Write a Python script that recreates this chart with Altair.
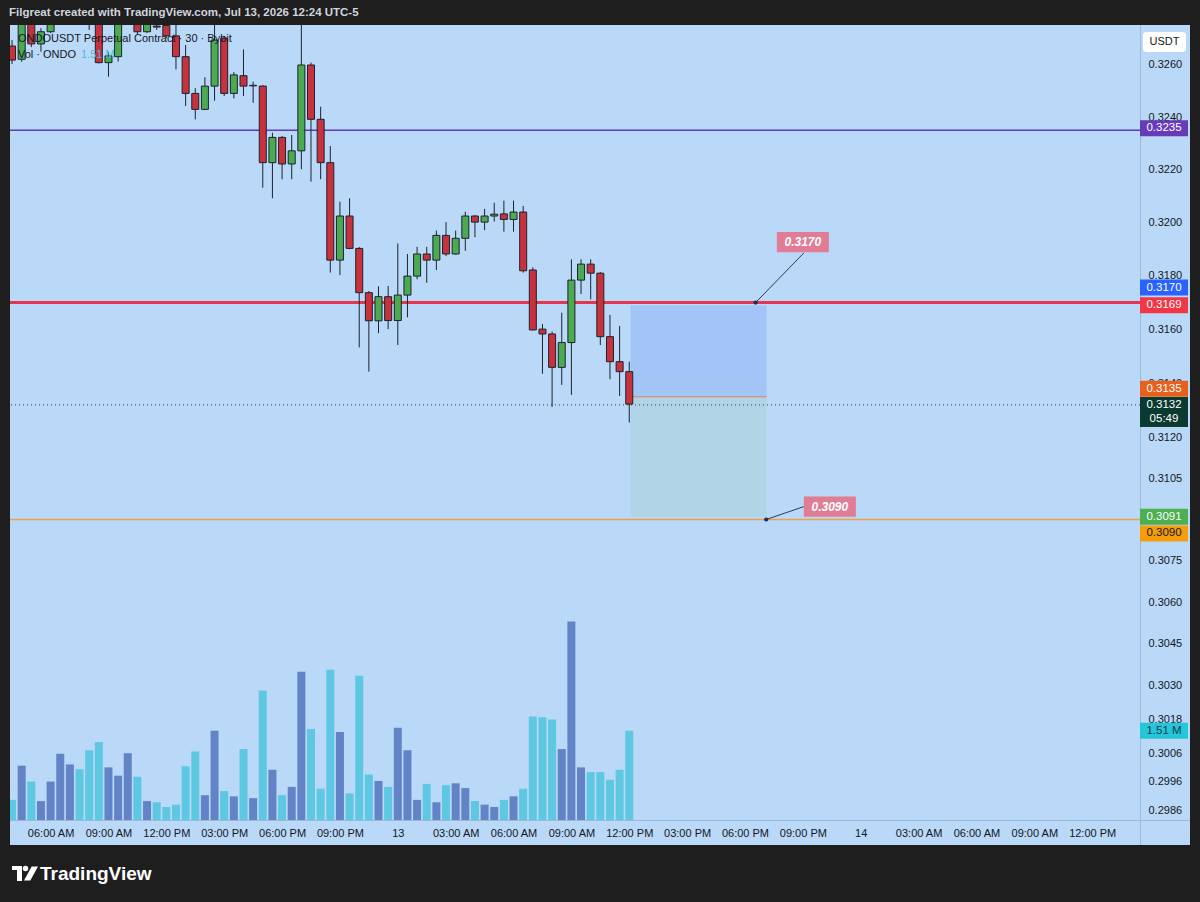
import altair as alt
import pandas as pd

# ---------------- data ----------------
# 30-minute bars; index 0 = Jul 12, 04:00 AM
bar_index = list(range(65))
opens = [0.32673, 0.32622, 0.3278, 0.32681, 0.32728, 0.3277, 0.3284, 0.3290, 0.3285, 0.3280,
         0.32609, 0.32632, 0.3277, 0.3285, 0.32728, 0.32750, 0.32752, 0.32712, 0.32632, 0.32491,
         0.32430, 0.32519, 0.32703, 0.32491, 0.32559, 0.32520, 0.32519, 0.32227, 0.32323, 0.32222,
         0.32272, 0.32600, 0.32392, 0.32227, 0.31859, 0.32025, 0.31903, 0.31737, 0.31632, 0.31722,
         0.31633, 0.31728, 0.31799, 0.31882, 0.31859, 0.31952, 0.31882, 0.31941, 0.32025, 0.32002,
         0.32025, 0.32033, 0.32012, 0.32040, 0.31822, 0.31601, 0.31583, 0.31459, 0.31551, 0.31784,
         0.31844, 0.31810, 0.31573, 0.31480, 0.31443]
highs = [0.32696, 0.3281, 0.3280, 0.32742, 0.3279, 0.3287, 0.3293, 0.3294, 0.3288, 0.3283,
         0.32650, 0.3280, 0.3288, 0.3288, 0.3279, 0.3277, 0.3278, 0.3276, 0.32677, 0.32511,
         0.32553, 0.3280, 0.32712, 0.32573, 0.32660, 0.32536, 0.32523, 0.32341, 0.32328, 0.32332,
         0.3280, 0.32609, 0.32440, 0.32290, 0.32079, 0.32092, 0.31908, 0.31743, 0.31761, 0.31762,
         0.31922, 0.31882, 0.31909, 0.31909, 0.31970, 0.32002, 0.31970, 0.32041, 0.32029, 0.32052,
         0.32075, 0.32083, 0.32083, 0.32063, 0.31832, 0.31620, 0.31592, 0.31662, 0.31862, 0.31862,
         0.31862, 0.31814, 0.31654, 0.31613, 0.31480]
lows = [0.32604, 0.32612, 0.32669, 0.32651, 0.32723, 0.3276, 0.3281, 0.3282, 0.32735, 0.32606,
        0.32555, 0.32613, 0.3276, 0.32719, 0.32723, 0.32735, 0.32704, 0.32583, 0.32443, 0.32392,
        0.32427, 0.32463, 0.32481, 0.32472, 0.32481, 0.32455, 0.32132, 0.32092, 0.32164, 0.32164,
        0.32202, 0.32155, 0.32164, 0.31812, 0.31803, 0.31900, 0.31533, 0.31443, 0.31586, 0.31601,
        0.31542, 0.31645, 0.31787, 0.31774, 0.31822, 0.31874, 0.31880, 0.31894, 0.31945, 0.31972,
        0.32004, 0.31966, 0.31966, 0.31812, 0.31596, 0.31435, 0.31313, 0.31394, 0.31357, 0.31732,
        0.31712, 0.31542, 0.31415, 0.31353, 0.31255]
closes = [0.32619, 0.3278, 0.32681, 0.32728, 0.3277, 0.3284, 0.3290, 0.3285, 0.3280, 0.32609,
          0.32635, 0.3277, 0.3285, 0.32728, 0.3276, 0.32746, 0.32712, 0.32632, 0.32491, 0.32430,
          0.32519, 0.32696, 0.32491, 0.32562, 0.32519, 0.32522, 0.32227, 0.32323, 0.32222, 0.32272,
          0.32600, 0.32392, 0.32227, 0.31859, 0.32025, 0.31903, 0.31737, 0.31632, 0.31722, 0.31633,
          0.31728, 0.31799, 0.31882, 0.31859, 0.31952, 0.31882, 0.31941, 0.32025, 0.32002, 0.32025,
          0.32032, 0.32012, 0.32040, 0.31819, 0.31598, 0.31583, 0.31459, 0.31551, 0.31784, 0.31844,
          0.31810, 0.31573, 0.31480, 0.31443, 0.31323]
volumes_m = [0.34, 0.92, 0.65, 0.32, 0.65, 1.12, 0.94, 0.86, 1.18, 1.32,
             0.89, 0.75, 1.13, 0.73, 0.32, 0.30, 0.22, 0.26, 0.91, 1.16,
             0.42, 1.51, 0.49, 0.40, 1.20, 0.37, 2.19, 0.85, 0.42, 0.56,
             2.51, 1.54, 0.53, 2.54, 1.49, 0.45, 2.44, 0.77, 0.66, 0.56,
             1.56, 1.18, 0.34, 0.61, 0.30, 0.59, 0.62, 0.54, 0.32, 0.26,
             0.22, 0.34, 0.40, 0.53, 1.75, 1.74, 1.70, 1.20, 3.36, 0.89,
             0.81, 0.81, 0.68, 0.85, 1.51]

x_tick_index = [4, 10, 16, 22, 28, 34, 40, 46, 52, 58, 64, 70, 76, 82, 88, 94, 100, 106, 112]
x_tick_labels = ["06:00 AM", "09:00 AM", "12:00 PM", "03:00 PM", "06:00 PM", "09:00 PM", "13",
                 "03:00 AM", "06:00 AM", "09:00 AM", "12:00 PM", "03:00 PM", "06:00 PM", "09:00 PM", "14",
                 "03:00 AM", "06:00 AM", "09:00 AM", "12:00 PM"]
y_tick_values = [0.3260, 0.3240, 0.3220, 0.3200, 0.3180, 0.3160, 0.3140, 0.3120, 0.3105,
                 0.3075, 0.3060, 0.3045, 0.3030, 0.3018, 0.3006, 0.2996, 0.2986]

purple_level = 0.3235
red_level = 0.3170
orange_level = 0.3090
last_price = 0.3132
pos_start, pos_end = 64.13, 78.25
pos_stop, pos_entry, pos_target = 0.3169, 0.3135, 0.3091
callouts = [  # dot (index, price), line end (index, price), label (index, price), text
    (77.1, 0.3170, 82.1, 0.31886, 82.0, 0.31927, "0.3170"),
    (78.2, 0.3090, 82.1, 0.30947, 84.8, 0.30947, "0.3090"),
]
badges = [  # price, text, fill, text colour, offset
    (0.3235, "0.3235", "#673ab7", "white", -2),
    (0.3170, "0.3170", "#2962ff", "white", -15),
    (0.3169, "0.3169", "#f23645", "white", 0),
    (0.3135, "0.3135", "#e8601c", "white", -8),
    (0.3091, "0.3091", "#4caf50", "white", 0),
    (0.3090, "0.3090", "#f59d0b", "#131722", 14),
]

# ---------------- scales ----------------
X_DOMAIN = [0.308, 116.44]
P_DOMAIN = [0.29825, 0.32754]
V_DOMAIN = [0, 13.45]
W, H = 1130, 795
FONT = "Liberation Sans"

xs = alt.Scale(domain=X_DOMAIN, nice=False, zero=False)
ps = alt.Scale(type="log", domain=P_DOMAIN, nice=False)
vs = alt.Scale(domain=V_DOMAIN, nice=False, zero=True)

label_expr = "{}[indexof({}, datum.value)]".format(
    "[" + ",".join("'%s'" % s for s in x_tick_labels) + "]",
    "[" + ",".join(str(v) for v in x_tick_index) + "]")
x_axis = alt.Axis(values=x_tick_index, labelExpr=label_expr, ticks=False, domain=False, grid=False,
                  labelPadding=7, labelFontSize=11, labelColor="#131722", labelFont=FONT,
                  labelOverlap=False, labelFlush=False, title=None)
y_axis = alt.Axis(orient="right", values=y_tick_values, format=".4f", ticks=False, domain=False,
                  grid=False, labelPadding=8, labelFontSize=11, labelColor="#131722", labelFont=FONT,
                  labelOverlap=False, labelFlush=False, title=None)

df = pd.DataFrame({"idx": bar_index, "open": opens, "high": highs, "low": lows,
                   "close": closes, "vol": volumes_m})
df["dir"] = ["up" if c >= o else "down" for o, c in zip(opens, closes)]

X = alt.X("idx:Q", scale=xs, axis=x_axis)
one = pd.DataFrame({"a": [0]})
layers = []

# volume
layers.append(alt.Chart(df).mark_bar(orient="vertical", size=8).encode(
    x=X, y=alt.Y("vol:Q", scale=vs, axis=None, stack=None),
    color=alt.Color("dir:N", scale=alt.Scale(domain=["up", "down"], range=["#6284c7", "#5ec8e2"]), legend=None)))

# position tool
pos = pd.DataFrame({"x0": [pos_start, pos_start], "x1": [pos_end, pos_end],
                    "y0": [pos_stop, pos_entry], "y1": [pos_entry, pos_target],
                    "zone": ["stop", "target"]})
layers.append(alt.Chart(pos).mark_rect().encode(
    x=alt.X("x0:Q", scale=xs, axis=x_axis), x2="x1:Q",
    y=alt.Y("y0:Q", scale=ps, axis=None), y2="y1:Q",
    color=alt.Color("zone:N", scale=alt.Scale(domain=["stop", "target"], range=["#a3c4f6", "#b1d5e6"]), legend=None)))
layers.append(alt.Chart(pd.DataFrame({"x0": [pos_start], "x1": [pos_end], "p": [pos_entry]})).mark_rule(
    color="#e27d5e", strokeWidth=1).encode(
    x=alt.X("x0:Q", scale=xs, axis=x_axis), x2="x1:Q", y=alt.Y("p:Q", scale=ps, axis=None)))

# horizontal levels
def hline(price, color, width, dash=None):
    kw = dict(color=color, strokeWidth=width)
    if dash:
        kw["strokeDash"] = dash
    return alt.Chart(one).mark_rule(**kw).encode(y=alt.YDatum(price, scale=ps, axis=None))

layers.append(hline(purple_level, "#5e3bbd", 1.5))
layers.append(hline(orange_level, "#eea043", 1.5))
layers.append(hline(last_price, "#3a3f4a", 1, [1, 3]))
layers.append(hline(red_level, "#e5364d", 3))

# candles
layers.append(alt.Chart(df).mark_rule(color="#1b2331", strokeWidth=1, clip=True).encode(
    x=X, y=alt.Y("low:Q", scale=ps, axis=y_axis), y2="high:Q"))
layers.append(alt.Chart(df).mark_bar(size=7, stroke="#1b2331", strokeWidth=1, clip=True).encode(
    x=X, y=alt.Y("open:Q", scale=ps, axis=None), y2="close:Q",
    color=alt.Color("dir:N", scale=alt.Scale(domain=["up", "down"], range=["#4caa50", "#c8323c"]), legend=None)))

# callouts
RECT = "M-1,-0.39L1,-0.39L1,0.39L-1,0.39Z"
for dx, dp, lx, lp, bx, bp, txt in callouts:
    seg = pd.DataFrame({"x0": [dx], "x1": [lx], "y0": [dp], "y1": [lp]})
    layers.append(alt.Chart(seg).mark_rule(color="#2a3a6a", strokeWidth=1).encode(
        x=alt.X("x0:Q", scale=xs, axis=x_axis), x2="x1:Q", y=alt.Y("y0:Q", scale=ps, axis=None), y2="y1:Q"))
    layers.append(alt.Chart(pd.DataFrame({"x": [dx], "p": [dp]})).mark_point(
        filled=True, size=18, color="#1c2a5c", opacity=1).encode(
        x=alt.X("x:Q", scale=xs, axis=x_axis), y=alt.Y("p:Q", scale=ps, axis=None)))
    lab = pd.DataFrame({"x": [bx], "p": [bp], "t": [txt]})
    layers.append(alt.Chart(lab).mark_point(shape=RECT, size=52 * 52, filled=True, color="#e07c93",
                                            opacity=1, strokeWidth=0).encode(
        x=alt.X("x:Q", scale=xs, axis=x_axis), y=alt.Y("p:Q", scale=ps, axis=None)))
    layers.append(alt.Chart(lab).mark_text(color="white", fontSize=12, fontWeight="bold",
                                           fontStyle="italic", font=FONT).encode(
        x=alt.X("x:Q", scale=xs, axis=x_axis), y=alt.Y("p:Q", scale=ps, axis=None), text="t:N"))

# legend text
layers.append(alt.Chart(one).mark_text(text="ONDOUSDT Perpetual Contract · 30 · Bybit", align="left",
                                       baseline="middle", fontSize=11, color="#131722", font=FONT).encode(
    x=alt.value(8), y=alt.value(14)))
layers.append(alt.Chart(one).mark_text(text="Vol · ONDO", align="left", baseline="middle",
                                       fontSize=11, color="#131722", font=FONT).encode(
    x=alt.value(8), y=alt.value(30)))
layers.append(alt.Chart(one).mark_text(text="1.51 M", align="left", baseline="middle",
                                       fontSize=11, color="#4fb8d8", font=FONT).encode(
    x=alt.value(71), y=alt.value(30)))

# separators and frame
def rect(x0, x1, y0, y1, color, **kw):
    return alt.Chart(one).mark_rect(color=color, **kw).encode(
        x=alt.value(x0), x2=alt.value(x1), y=alt.value(y0), y2=alt.value(y1))

layers.append(rect(W, W + 1, 0, H + 25, "#9db8d8"))
layers.append(rect(0, W + 50, H, H + 1, "#9db8d8"))
DARK = "#1e1e1e"
layers.append(rect(-10, W + 60, -25, 0, DARK))
layers.append(rect(-10, 0, 0, H + 82, DARK))
layers.append(rect(W + 50, W + 60, 0, H + 82, DARK))
layers.append(rect(-10, W + 60, H + 25, H + 82, DARK))

# axis badges
BX = W + 24
def badge_shape(h):
    r = h / 48.0
    return "M-1,-{0:.3f}L1,-{0:.3f}L1,{0:.3f}L-1,{0:.3f}Z".format(r)

for price, txt, fill, tcol, off in badges:
    layers.append(alt.Chart(one).mark_point(shape=badge_shape(16), size=48 * 48, filled=True, color=fill,
                                            opacity=1, strokeWidth=0, yOffset=off).encode(
        x=alt.value(BX), y=alt.YDatum(price, scale=ps, axis=None)))
    layers.append(alt.Chart(one).mark_text(text=txt, color=tcol, fontSize=11.5, font=FONT,
                                           yOffset=off).encode(
        x=alt.value(BX), y=alt.YDatum(price, scale=ps, axis=None)))

layers.append(alt.Chart(one).mark_point(shape=badge_shape(30), size=48 * 48, filled=True, color="#0a3a30",
                                        opacity=1, strokeWidth=0, yOffset=7).encode(
    x=alt.value(BX), y=alt.YDatum(last_price, scale=ps, axis=None)))
layers.append(alt.Chart(one).mark_text(text="0.3132", color="white", fontSize=11.5, font=FONT).encode(
    x=alt.value(BX), y=alt.YDatum(last_price, scale=ps, axis=None)))
layers.append(alt.Chart(one).mark_text(text="05:49", color="white", fontSize=11.5, font=FONT, yOffset=14).encode(
    x=alt.value(BX), y=alt.YDatum(last_price, scale=ps, axis=None)))

layers.append(alt.Chart(one).mark_point(shape=badge_shape(16), size=48 * 48, filled=True, color="#26c6da",
                                        opacity=1, strokeWidth=0).encode(
    x=alt.value(BX), y=alt.YDatum(1.51, scale=vs, axis=None)))
layers.append(alt.Chart(one).mark_text(text="1.51 M", color="#0d3d4a", fontSize=11.5, font=FONT).encode(
    x=alt.value(BX), y=alt.YDatum(1.51, scale=vs, axis=None)))

# USDT box
layers.append(rect(W + 3, W + 46, 7, 27, "white", cornerRadius=3))
layers.append(alt.Chart(one).mark_text(text="USDT", color="#131722", fontSize=11, font=FONT).encode(
    x=alt.value(W + 24.5), y=alt.value(17)))

# header and logo
layers.append(alt.Chart(one).mark_text(text="Filgreat created with TradingView.com, Jul 13, 2026 12:24 UTC-5",
                                       align="left", baseline="middle", fontSize=11.5, fontWeight=600,
                                       color="#d1d4dc", font=FONT).encode(x=alt.value(-1), y=alt.value(-12)))
layers.append(rect(2, 12, 841, 845, "white"))
layers.append(rect(7, 12, 841, 856, "white"))
layers.append(alt.Chart(one).mark_point(filled=True, size=30, color="white", opacity=1).encode(
    x=alt.value(15.5), y=alt.value(843.5)))
layers.append(alt.Chart(one).mark_point(shape="M0.1,-1L1,-1L-0.1,1L-1,1Z", size=196, filled=True,
                                        color="white", opacity=1, strokeWidth=0).encode(
    x=alt.value(21), y=alt.value(848.5)))
layers.append(alt.Chart(one).mark_text(text="TradingView", align="left", baseline="middle", fontSize=19,
                                       fontWeight="bold", color="white", font=FONT).encode(
    x=alt.value(30), y=alt.value(849)))

chart = alt.layer(*layers).properties(
    width=W, height=H, autosize="none",
    padding={"left": 10, "top": 25, "right": 60, "bottom": 82},
).resolve_scale(y="independent", color="independent").configure(
    background="#bad8f7", font=FONT).configure_view(stroke=None)

chart.save("out.html", embed_options={"renderer": "svg", "actions": False})
